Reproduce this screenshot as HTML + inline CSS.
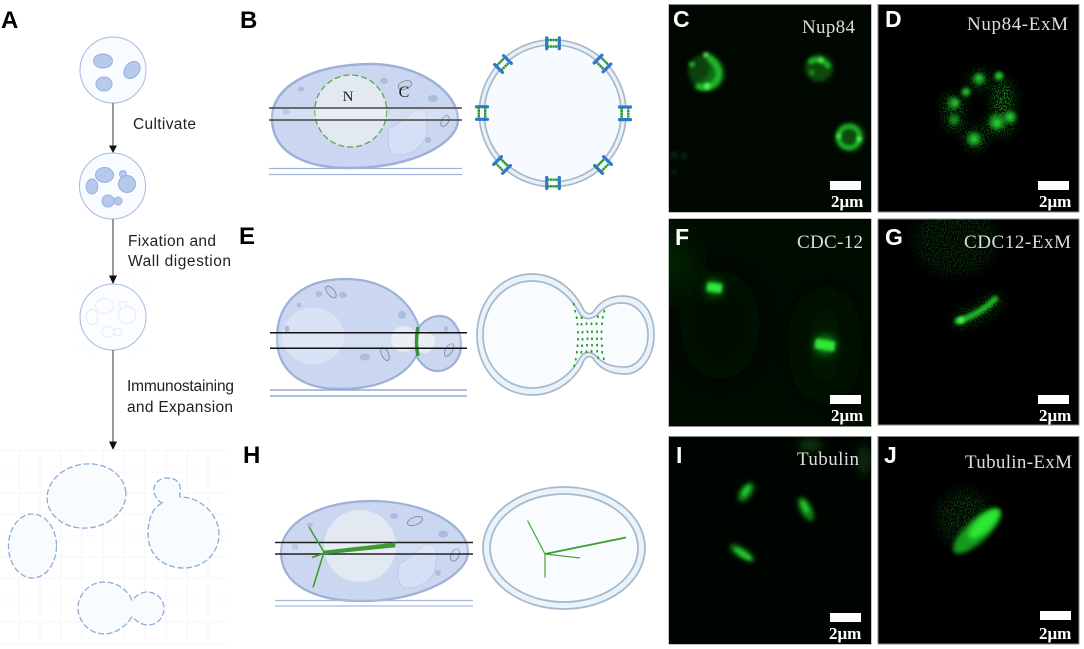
<!DOCTYPE html>
<html><head><meta charset="utf-8"><style>
html,body{margin:0;padding:0;background:#fff}
svg{display:block}
.s{font-family:"Liberation Sans",sans-serif;font-size:15.500px;fill:#222}
.l{font-family:"Liberation Sans",sans-serif;font-size:24px;font-weight:bold;fill:#000}
.w{font-family:"Liberation Sans",sans-serif;font-size:23px;font-weight:bold;fill:#fff}
.t{font-family:"Liberation Serif",serif;font-size:19px;fill:#ddd}
.u{font-family:"Liberation Serif",serif;font-size:17px;font-weight:bold;fill:#fff}
</style></head><body>
<svg width="1084" height="649" viewBox="0 0 1084 649" xmlns="http://www.w3.org/2000/svg">
<defs>
<filter id="b1" x="-50%" y="-50%" width="200%" height="200%"><feGaussianBlur stdDeviation="1.500"/></filter>
<filter id="b2" x="-50%" y="-50%" width="200%" height="200%"><feGaussianBlur stdDeviation="2.500"/></filter>
<filter id="b4" x="-80%" y="-80%" width="260%" height="260%"><feGaussianBlur stdDeviation="5"/></filter>
<filter id="b12" x="-100%" y="-100%" width="300%" height="300%"><feGaussianBlur stdDeviation="16"/></filter>
<filter id="sp" x="-40%" y="-40%" width="180%" height="180%"><feGaussianBlur stdDeviation="6" result="g"/><feTurbulence type="fractalNoise" baseFrequency=".7" numOctaves="2" seed="3" result="n"/><feColorMatrix in="n" type="matrix" values="0 0 0 0 1 0 0 0 0 1 0 0 0 0 1 5 0 0 0 -2.200" result="m"/><feComposite in="g" in2="m" operator="in"/></filter>
<g id="nup">
<rect x="-6" y="-2" width="12" height="4" fill="#f7fbff"/>
<path d="M-6-3.300H6M-6 3.300H6" stroke="#1f9a1f" stroke-width="2.400" stroke-dasharray="2.200 .5"/>
<path d="M-6.300-5.500V5.500M6.300-5.500V5.500" stroke="#3079c9" stroke-width="3.200" stroke-linecap="round"/>
</g>
<clipPath id="cC"><rect x="669" y="5" width="202" height="207"/></clipPath>
<clipPath id="cD"><rect x="878" y="5" width="201" height="207"/></clipPath>
<clipPath id="cF"><rect x="669" y="219" width="202" height="207"/></clipPath>
<clipPath id="cG"><rect x="878" y="219" width="201" height="206"/></clipPath>
<clipPath id="cI"><rect x="669" y="437" width="202" height="207"/></clipPath>
<clipPath id="cJ"><rect x="878" y="437" width="201" height="207"/></clipPath>
</defs>
<rect width="1084" height="649" fill="#fff"/>

<!-- Panel A -->
<path d="M73 288H153M73 308H153M73 330H153M73 349H153M93 277V360M113 277V360M134 277V360" fill="none" stroke="#f7f8fa" stroke-width="1"/>
<g stroke="#a5bbe0" stroke-width="1">
<circle cx="113" cy="70" r="33" fill="#f8fbff"/>
<circle cx="112.500" cy="186" r="33" fill="#f8fbff"/>
<circle cx="113" cy="317" r="33" fill="#fbfdff"/>
</g>
<g fill="#b7c9ec" stroke="#98b1dc" stroke-width="1">
<ellipse cx="103" cy="61" rx="9.500" ry="7"/>
<ellipse cx="132" cy="70" rx="9.500" ry="7" transform="rotate(-50 132 70)"/>
<ellipse cx="104" cy="84" rx="8" ry="7"/>
<ellipse cx="104.500" cy="175" rx="9" ry="7.500"/>
<ellipse cx="92" cy="186.500" rx="5.800" ry="7.500"/>
<circle cx="123" cy="174" r="3.500"/>
<circle cx="127" cy="184" r="8.500"/>
<circle cx="118" cy="201" r="4"/>
<ellipse cx="108" cy="201" rx="6" ry="6"/>
</g>
<g fill="#fbfdff" stroke="#e4eaf6" stroke-width="1">
<ellipse cx="104.500" cy="306" rx="9" ry="7.500"/>
<ellipse cx="92" cy="317" rx="5.800" ry="7.500"/>
<circle cx="127" cy="315" r="8.500"/>
<circle cx="123" cy="305" r="3.500"/>
<ellipse cx="108" cy="332" rx="6" ry="5.500"/>
<circle cx="118" cy="332" r="4"/>
</g>
<path d="M113 103V146M113 219V276M113 350V443" stroke="#777" stroke-width="1.500"/>
<path d="M109 145.500H117L113 153ZM109 275.500H117L113 284ZM109 441.500H117L113 450Z" fill="#111"/>
<text class="s" x="133" y="129" textLength="63">Cultivate</text>
<text class="s" x="128" y="246" textLength="88">Fixation and</text>
<text class="s" x="128" y="266" textLength="103">Wall digestion</text>
<text class="s" x="127" y="391" textLength="107">Immunostaining</text>
<text class="s" x="127" y="412" textLength="106">and Expansion</text>

<path d="M0 472H228M0 493H228M0 514H228M0 536H228M0 557H228M0 578H228M0 600H228M0 622H228M0 450H228M0 644H228M19 450V644M40 450V644M61 450V644M82 450V644M103 450V644M124 450V644M145 450V644M166 450V644M187 450V644M208 450V644" stroke="#f5f6f9" stroke-width="1" fill="none"/>
<g fill="#f7fbff" fill-opacity=".85" stroke="#8fabd6" stroke-width="1.300" stroke-dasharray="6 2.500">
<ellipse cx="86.500" cy="496" rx="39.500" ry="32" transform="rotate(-8 86.500 496)"/>
<ellipse cx="32.500" cy="546" rx="24" ry="32"/>
<path d="M162 503C152 508 148 520 148 534C148 556 164 568 184 568C204 568 219 553 219 534C219 516 202 497 180 497C179 494 181 491 180 487C179 480 173 478 167 478C158 478 153 485 154 492C155 497 158 501 162 503Z"/>
<path d="M132 600C127 589 116 582 104 582C90 582 78 594 78 608C78 622 90 634 104 634C116 634 126 626 132 617C138 622 142 625 148 625C157 625 164 618 164 608C164 599 156 592 147 592C141 592 136 596 132 600Z"/>
</g>

<!-- B cell -->
<path d="M272 118C272 88 308 65 370 64C420 64 458 92 458 120C458 142 415 168 350 168C300 168 272 150 272 118Z" fill="#cbd7f0" stroke="#9db1d8" stroke-width="2.500"/>
<g fill="#aebcdc"><ellipse cx="301" cy="89" rx="3" ry="2.500"/><ellipse cx="384" cy="81" rx="4" ry="3"/><ellipse cx="433" cy="98.500" rx="5" ry="3.500"/><ellipse cx="286" cy="112" rx="3.500" ry="3"/><ellipse cx="428" cy="140" rx="3" ry="3"/></g>
<ellipse cx="445" cy="121" rx="6" ry="3.500" transform="rotate(-60 445 121)" fill="#c7d3ec" stroke="#7f8aa6" stroke-width=".9"/>
<ellipse cx="405" cy="85" rx="7" ry="4" transform="rotate(-20 405 85)" fill="#c7d3ec" stroke="#7f8aa6" stroke-width=".9"/>
<circle cx="350.700" cy="111" r="36" fill="#e3e9f3" stroke="#58a848" stroke-width="1.300" stroke-dasharray="6 3"/>
<path d="M388 129C400 125 410 110 420 110C428 108 428 125 426 135C424 146 412 155 398 155C392 156 388 150 388 140Z" fill="#d5dff5" stroke="#bccbe7" stroke-width="1"/>
<rect x="269" y="108" width="193" height="12" fill="#fff" fill-opacity=".2"/>
<path d="M269 108H462M269 120H462" stroke="#444" stroke-width="1.500"/>
<path d="M269 168.500H462M269 174.500H462" stroke="#9fb4dc" stroke-width="1.300"/>
<text x="348" y="101" text-anchor="middle" font-family="Liberation Serif,serif" font-size="15" fill="#222">N</text>
<text x="404" y="97" text-anchor="middle" font-family="Liberation Serif,serif" font-size="16" fill="#222">C</text>

<!-- B ring -->
<circle cx="552.700" cy="113.300" r="73.500" fill="#e6f1fa" stroke="#a9b8c8" stroke-width="1.700"/>
<circle cx="552.700" cy="113.300" r="68.500" fill="#f7fbff" stroke="#a9b8c8" stroke-width="1.700"/>
<use href="#nup" transform="translate(553 43.300)"/>
<use href="#nup" transform="translate(602.500 63.500) rotate(45)"/>
<use href="#nup" transform="translate(625 113.300) rotate(90)"/>
<use href="#nup" transform="translate(603 165) rotate(-45)"/>
<use href="#nup" transform="translate(553 183)"/>
<use href="#nup" transform="translate(502 165) rotate(45)"/>
<use href="#nup" transform="translate(482 113) rotate(90)"/>
<use href="#nup" transform="translate(503 64) rotate(-45)"/>

<!-- E cell -->
<path d="M277 338C277 300 305 279 345 279C385 279 410 300 419 327C425 319 433 316 440 316C453 316 461 330 461 345C461 360 450 371 437 371C428 371 422 365 416 356C405 378 375 389 340 389C300 389 277 370 277 338Z" fill="#cbd7f0" stroke="#9db1d8" stroke-width="2.200"/>
<ellipse cx="313" cy="336" rx="31" ry="28" fill="#dae2f5"/>
<g fill="#aebcdc"><ellipse cx="319" cy="294" rx="3.500" ry="3"/><ellipse cx="343" cy="295" rx="4" ry="3"/><ellipse cx="299" cy="305" rx="2.500" ry="2.300"/><ellipse cx="402" cy="315" rx="4" ry="4"/><ellipse cx="365" cy="357" rx="5.500" ry="3.500"/><ellipse cx="287" cy="329" rx="2.500" ry="3.500"/><ellipse cx="446" cy="329" rx="2" ry="3"/></g>
<ellipse cx="331" cy="292" rx="7" ry="3.500" transform="rotate(50 331 292)" fill="#c7d3ec" stroke="#7f8aa6" stroke-width=".9"/>
<ellipse cx="385" cy="354" rx="7" ry="3.500" transform="rotate(65 385 354)" fill="#c7d3ec" stroke="#7f8aa6" stroke-width=".9"/>
<ellipse cx="449" cy="350" rx="7" ry="3.500" transform="rotate(-60 449 350)" fill="#c7d3ec" stroke="#7f8aa6" stroke-width=".9"/>
<circle cx="404" cy="339" r="13" fill="#e5ebf2"/><circle cx="424" cy="342" r="11" fill="#e5ebf2"/>
<rect x="270" y="333" width="197" height="15" fill="#fff" fill-opacity=".2"/>
<path d="M418 327C416 337 416 347 418 356" stroke="#2f9a35" stroke-width="3.500" fill="none"/>
<path d="M270 332.700H467M270 348.300H467" stroke="#111" stroke-width="1.500"/>
<path d="M270 390H467M270 396H467" stroke="#94abd6" stroke-width="1.500"/>

<!-- E right -->
<path d="M582 307C572 287 553 274 532 274C500 274 477 302 477 335C477 368 500 395 532 395C553 395 572 383 582 365C585 355 591 354 595 361C602 370 613 374 625 374C642 374 654 356 654 335C654 314 644 296 622 296C611 296 602 301 596 308C592 316 586 316 582 307Z" fill="#e8f3fb" stroke="#a9b8c8" stroke-width="1.700"/>
<path d="M580 314C570 295 553 281 532 281C505 281 483 305 483 335C483 365 505 388 532 388C553 388 570 376 580 358C584 351 591 351 596 356C604 365 614 367 625 367C637 367 648 353 648 335C648 317 637 303 622 303C612 303 604 307 598 314C592 320 584 320 580 314Z" fill="#f9fcff" stroke="#a9b8c8" stroke-width="1.700"/>
<path d="M573.500 303l.5 2.500M575 310l.5 2.500M576.500 316.500l.3 2.500M581.500 316.500l.3 2.500M598 315.500l-.4 2.500M604.500 310l-.5 2.500M603 316l-.5 2.500M577.500 323v2.500M581.500 323v2.500M586.500 322.500v2.500M591.500 322.500v2.500M596.500 322.500v2.500M602 322.500v2.500M578 331v2.500M582.500 331v2.500M587.500 330.500v2.500M592 330.500v2.500M597 330.500v2.500M601.500 330.500v2.500M578 338v2.500M582.500 338v2.500M587.500 337.500v2.500M592 337.500v2.500M597 337.500v2.500M601.500 337.500v2.500M577.500 344.500v2.500M582 344.500v2.500M587 344v2.500M592 344v2.500M597 344v2.500M602 344.500v2.500M577 351l-.3 2.500M581.500 351l-.3 2.500M586.500 350.500v2.500M591.500 350v2.500M597 350l.3 2.500M602 351l.3 2.500M576 358l-.5 2.500M574.500 364.500l-.5 2.500M598 356.500l.4 2.500M603.500 357.500l.4 2.500" stroke="#1f9a1f" stroke-width="1.700" fill="none"/>

<!-- H cell -->
<path d="M281 552C281 525 315 502 370 501C425 501 468 525 468 552C468 575 420 601 365 601C315 602 281 585 281 552Z" fill="#cbd7f0" stroke="#9db1d8" stroke-width="2.200"/>
<g fill="#aebcdc"><ellipse cx="310" cy="525" rx="3" ry="2"/><ellipse cx="394" cy="516" rx="4" ry="3"/><ellipse cx="443" cy="534" rx="5" ry="3.500"/><ellipse cx="295" cy="547" rx="3.500" ry="3"/><ellipse cx="438" cy="573" rx="3" ry="3"/></g>
<ellipse cx="415" cy="521" rx="8" ry="4" transform="rotate(-20 415 521)" fill="#c7d3ec" stroke="#7f8aa6" stroke-width=".9"/>
<ellipse cx="455" cy="555" rx="6.500" ry="4" transform="rotate(-65 455 555)" fill="#c7d3ec" stroke="#7f8aa6" stroke-width=".9"/>
<circle cx="360" cy="546" r="36" fill="#e3e9f3"/>
<path d="M399 564C410 560 420 545 430 544C438 544 438 560 434 572C430 582 418 588 408 588C400 589 397 580 398 572Z" fill="#d5dff5" stroke="#bccbe7" stroke-width="1"/>
<rect x="275" y="543" width="198" height="11" fill="#fff" fill-opacity=".2"/>
<path d="M275 542.500H473M275 554H473" stroke="#222" stroke-width="1.400"/>
<path d="M275 600.500H473M275 606H473" stroke="#a5b9de" stroke-width="1.300"/>
<path d="M309 527L324 552M312 557.500L324 553M313 587.500L324 552" stroke="#3a9a22" stroke-width="1.500" fill="none"/>
<path d="M324 551L395 543V547L324 554Z" fill="#3f9a35" stroke="#3f9a35" stroke-width=".8"/>

<ellipse cx="564" cy="548" rx="81" ry="61" fill="#e8f3fb" stroke="#a9b8c8" stroke-width="1.800"/>
<ellipse cx="564" cy="548" rx="74" ry="54" fill="#f9fcff" stroke="#a9b8c8" stroke-width="1.800"/>
<path d="M527.500 520.500L545 554M545 554L580 558M545 554V577.500" stroke="#4aa63a" stroke-width="1.200" fill="none"/>
<path d="M545 554L626 537.500" stroke="#3f9a2f" stroke-width="1.800"/>

<!-- Micrographs -->
<g fill="#000" stroke="#8a8a8a" stroke-width="1">
<rect x="669" y="4.500" width="202" height="207.500"/>
<rect x="878" y="4.500" width="201" height="207.500"/>
<rect x="669" y="219" width="202" height="207.500"/>
<rect x="878" y="219" width="201" height="206"/>
<rect x="669" y="436.500" width="202" height="207.500"/>
<rect x="878" y="436.500" width="201" height="207.500"/>
</g>

<g clip-path="url(#cC)">
<rect x="669" y="5" width="202" height="207" fill="#000600"/>
<g fill="#0a280a" filter="url(#b2)"><circle cx="674" cy="155" r="4"/><circle cx="684" cy="156" r="3.500"/><circle cx="674" cy="172" r="3"/></g>
<g filter="url(#b2)">
<circle cx="705" cy="71" r="17" fill="#0a3f0e"/>
<path d="M703 52C718 54 728 68 723 80C718 92 704 94 692 86C702 84 708 78 710 70C710 62 708 56 703 52Z" fill="#107016"/>
<circle cx="819" cy="68" r="14" fill="#0c4a10"/>
<circle cx="850" cy="137" r="15" fill="#0c4a10"/>
</g>
<g filter="url(#b1)" fill="none" stroke="#1fb828">
<path d="M708 57C717 63 721 72 717 80C712 87 704 90 697 85" stroke-width="6"/>
<path d="M692 62V67" stroke-width="5"/>
<path d="M809 63C815 57 826 60 829 68" stroke-width="5"/>
<path d="M811 70L813 75" stroke-width="4" stroke="#1a9a20"/>
<circle cx="849" cy="137" r="10.500" stroke-width="4.500"/>
</g>
<g filter="url(#b1)" fill="#6cf86c"><circle cx="706" cy="55" r="2.500"/><circle cx="707" cy="86" r="3"/><circle cx="821" cy="60" r="2.300"/><circle cx="839" cy="136" r="2"/><circle cx="859" cy="139" r="2.500"/></g>
</g>

<g clip-path="url(#cD)">
<g fill="#1ca024" filter="url(#sp)"><ellipse cx="1003" cy="100" rx="10" ry="20"/><ellipse cx="1000" cy="124" rx="14" ry="10"/><circle cx="953" cy="105" r="10"/><circle cx="954" cy="122" r="8"/><circle cx="975" cy="139" r="10"/><circle cx="979" cy="80" r="9"/></g>
<g filter="url(#b1)">
<g fill="#12801a"><circle cx="979" cy="79" r="6"/><circle cx="999" cy="76" r="5"/><circle cx="966" cy="92" r="5"/><circle cx="954" cy="103" r="6"/><circle cx="954" cy="120" r="5"/><circle cx="974" cy="139" r="7"/><circle cx="997" cy="122" r="8"/><circle cx="1010" cy="117" r="6.500"/></g>
<g fill="#2ad030"><circle cx="979" cy="78" r="2.500"/><circle cx="999" cy="76" r="2.500"/><circle cx="966" cy="92" r="2"/><circle cx="955" cy="103" r="2.500"/><circle cx="974" cy="139" r="3"/><circle cx="997" cy="123" r="3.500"/><circle cx="1010" cy="117" r="3"/></g>
</g>
</g>

<g clip-path="url(#cF)">
<rect x="669" y="219" width="202" height="207" fill="#000b00"/>
<g filter="url(#b12)"><ellipse cx="825" cy="345" rx="26" ry="55" fill="#021504"/><ellipse cx="720" cy="325" rx="40" ry="55" fill="#010f03"/><ellipse cx="670" cy="260" rx="8" ry="30" fill="#0a4a0e"/></g>
<g filter="url(#b4)"><circle cx="714" cy="288" r="8" fill="#108818"/><circle cx="825" cy="345" r="10" fill="#108818"/></g>
<g filter="url(#b1)"><rect x="707" y="283" width="15" height="9" fill="#30e838" transform="rotate(8 714 288)"/><rect x="815" y="340" width="20" height="10" fill="#30e838" transform="rotate(10 825 345)"/></g>
</g>

<g clip-path="url(#cG)">
<ellipse cx="955" cy="240" rx="42" ry="36" fill="#1a8a20" filter="url(#sp)" opacity=".35"/>
<path d="M955 322C970 318 988 310 998 297" stroke="#1a9a20" stroke-width="13" fill="none" filter="url(#sp)" opacity=".8"/>
<path d="M955 322C968 319 985 310 997 297" stroke="#20b428" stroke-width="6" fill="none" filter="url(#b1)"/>
<circle cx="961" cy="320" r="3.500" fill="#4cf050" filter="url(#b1)"/>
</g>

<g clip-path="url(#cI)">
<rect x="669" y="437" width="202" height="207" fill="#000400"/>
<g filter="url(#b4)"><ellipse cx="810" cy="445" rx="12" ry="6" fill="#0a3d0c"/><ellipse cx="864" cy="460" rx="7" ry="16" fill="#072a08"/></g>
<g filter="url(#b2)" fill="#108016"><ellipse cx="746" cy="492" rx="6" ry="11" transform="rotate(35 746 492)"/><ellipse cx="806" cy="509" rx="6" ry="13" transform="rotate(-28 806 509)"/><ellipse cx="742" cy="553" rx="14" ry="5" transform="rotate(33 742 553)"/></g>
<g filter="url(#b1)" fill="#28c830"><ellipse cx="746" cy="491" rx="2.500" ry="6.500" transform="rotate(35 746 491)"/><ellipse cx="805" cy="507" rx="2.500" ry="7" transform="rotate(-28 805 507)"/><ellipse cx="743" cy="554" rx="10" ry="2.500" transform="rotate(33 743 554)"/></g>
</g>

<g clip-path="url(#cJ)">
<ellipse cx="965" cy="518" rx="28" ry="28" fill="#1c8c22" filter="url(#sp)" opacity=".45"/>
<ellipse cx="977" cy="531" rx="31" ry="11" transform="rotate(-43 977 531)" fill="#159a1b" filter="url(#b2)"/>
<ellipse cx="984" cy="524" rx="20" ry="7.500" transform="rotate(-43 984 524)" fill="#2ee636" filter="url(#b2)"/>
</g>

<g fill="#fff">
<rect x="830" y="181" width="31" height="9"/><rect x="1038" y="181" width="31" height="9"/>
<rect x="830" y="395" width="31" height="9"/><rect x="1038" y="395" width="31" height="9"/>
<rect x="830" y="613" width="31" height="9"/><rect x="1040" y="611" width="31" height="9"/>
</g>
<text class="u" x="831" y="207">2μm</text><text class="u" x="1039" y="207">2μm</text>
<text class="u" x="831" y="421">2μm</text><text class="u" x="1039" y="421">2μm</text>
<text class="u" x="829" y="639">2μm</text><text class="u" x="1039" y="639">2μm</text>
<text class="t" x="802" y="33" textLength="53">Nup84</text>
<text class="t" x="967" y="30" textLength="101">Nup84-ExM</text>
<text class="t" x="797" y="248" textLength="66">CDC-12</text>
<text class="t" x="964" y="248" textLength="107">CDC12-ExM</text>
<text class="t" x="797" y="465" textLength="62">Tubulin</text>
<text class="t" x="965" y="468" textLength="107">Tubulin-ExM</text>

<text class="l" x="1" y="28">A</text>
<text class="l" x="240" y="28">B</text>
<text class="l" x="239" y="244">E</text>
<text class="l" x="243" y="463">H</text>
<text class="w" x="673" y="27">C</text>
<text class="w" x="885" y="27">D</text>
<text class="w" x="675" y="245">F</text>
<text class="w" x="885" y="245">G</text>
<text class="w" x="676" y="463">I</text>
<text class="w" x="884" y="463">J</text>
</svg>
</body></html>
